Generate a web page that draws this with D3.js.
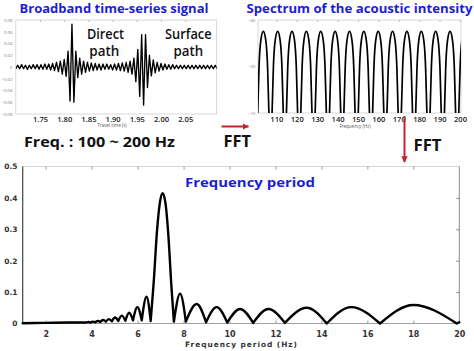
<!DOCTYPE html>
<html>
<head>
<meta charset="utf-8">
<script src="https://d3js.org/d3.v7.min.js"></script>
<style>
  body { margin: 0; background: #fff; }
</style>
</head>
<body>
<script>
// ---- data ----

// broadband time-series signal, one sample every 4 ms from 1.700 s
var sigStart = 1.700, sigStep = 0.004;
var sigValues = [
  -0.003, 0.003, -0.003, 0.004, -0.003, 0.003, -0.004, 0.003, -0.003, 0.004,
  -0.003, 0.004, -0.004, 0.004, -0.004, 0.005, -0.004, 0.005, -0.005, 0.006,
  -0.006, 0.008, -0.008, 0.010, -0.012, 0.013, -0.016,
  0.027, -0.058, 0.073, -0.060, 0.027, -0.018, 0.015, -0.012, 0.010, -0.009, 0.008, -0.007, 0.007, -0.006,
  0.006, -0.005, 0.005, -0.005, 0.005, -0.004, 0.005, -0.004, 0.004, -0.005, 0.005, -0.005, 0.006, -0.006, 0.007, -0.007,
  0.008, -0.009, 0.010, -0.012,
  0.015, -0.025, 0.030, -0.050, 0.055, -0.065, 0.055, -0.035, 0.020, -0.015, 0.012, -0.010, 0.008, -0.007, 0.006,
  -0.005, 0.005, -0.004, 0.004, -0.004, 0.004, -0.003, 0.003, -0.003, 0.003, -0.003, 0.003, -0.003, 0.003,
  -0.003, 0.003, -0.003, 0.003, -0.003, 0.003, -0.003, 0.003, -0.003, 0.003, -0.003, 0.003, -0.003, 0.003, -0.003
];
var sigTicksX = [1.75, 1.80, 1.85, 1.90, 1.95, 2.00, 2.05];
var sigTicksY = [0.08, 0.06, 0.04, 0.02, 0, -0.02, -0.04, -0.06, -0.08];

// spectrum of the acoustic intensity
var specFreq = [100.08,
  100.9, 101.5, 102.4, 103.6, 104.8, 105.7, 106.3, 107.12,
  107.94, 108.54, 109.44, 110.64, 111.84, 112.74, 113.34, 114.16,
  114.98, 115.58, 116.48, 117.68, 118.88, 119.78, 120.38, 121.2,
  122.02, 122.62, 123.52, 124.72, 125.92, 126.82, 127.42, 128.24,
  129.06, 129.66, 130.56, 131.76, 132.96, 133.86, 134.46, 135.28,
  136.1, 136.7, 137.6, 138.8, 140.0, 140.9, 141.5, 142.32,
  143.14, 143.74, 144.64, 145.84, 147.04, 147.94, 148.54, 149.36,
  150.18, 150.78, 151.68, 152.88, 154.08, 154.98, 155.58, 156.4,
  157.22, 157.82, 158.72, 159.92, 161.12, 162.02, 162.62, 163.44,
  164.26, 164.86, 165.76, 166.96, 168.16, 169.06, 169.66, 170.48,
  171.3, 171.9, 172.8, 174.0, 175.2, 176.1, 176.7, 177.52,
  178.34, 178.94, 179.84, 181.04, 182.24, 183.14, 183.74, 184.56,
  185.38, 185.98, 186.88, 188.08, 189.28, 190.18, 190.78, 191.6,
  192.42, 193.02, 193.92, 195.12, 196.32, 197.22, 197.82, 198.64,
  199.46, 200.06, 200.96, 202.16];
var specDb = [-5,
  -16, -29.8, -38.5, -41.3, -38.5, -29.8, -16, -5,
  -16, -29.8, -38.5, -41.3, -38.5, -29.8, -16, -5,
  -16, -29.8, -38.5, -41.3, -38.5, -29.8, -16, -5,
  -16, -29.8, -38.5, -41.3, -38.5, -29.8, -16, -5,
  -16, -29.8, -38.5, -41.3, -38.5, -29.8, -16, -5,
  -16, -29.8, -38.5, -41.3, -38.5, -29.8, -16, -5,
  -16, -29.8, -38.5, -41.3, -38.5, -29.8, -16, -5,
  -16, -29.8, -38.5, -41.3, -38.5, -29.8, -16, -5,
  -16, -29.8, -38.5, -41.3, -38.5, -29.8, -16, -5,
  -16, -29.8, -38.5, -41.3, -38.5, -29.8, -16, -5,
  -16, -29.8, -38.5, -41.3, -38.5, -29.8, -16, -5,
  -16, -29.8, -38.5, -41.3, -38.5, -29.8, -16, -5,
  -16, -29.8, -38.5, -41.3, -38.5, -29.8, -16, -5,
  -16, -29.8, -38.5, -41.3, -38.5, -29.8, -16, -5,
  -16, -29.8, -38.5, -41.3];
var specTicksX = [110, 120, 130, 140, 150, 160, 170, 180, 190, 200];
var specTicksY = [-45, -30, -15];

// frequency period
var periodX = [1.0, 2.0, 3.0, 3.66, 3.76, 3.86, 3.96, 4.06, 4.16, 4.27, 4.38, 4.5, 4.62, 4.75,
  4.88, 5.02, 5.16, 5.31, 5.47, 5.63, 5.8, 5.99, 6.18, 6.39, 6.57, 6.7, 6.84, 6.97, 7.09,
  7.21, 7.34, 7.47, 7.58, 7.85, 8.1, 8.57, 8.98, 9.44, 9.9, 10.46, 11.03, 11.69, 12.41,
  13.36, 14.23, 15.3, 16.55, 18.0, 19.89, 20.0];
var periodY = [0.001, 0.002, 0.003, 0.003, 0.003, 0.005, 0.003, 0.006, 0.004, 0.008, 0.005, 0.011, 0.006, 0.014,
  0.007, 0.019, 0.008, 0.025, 0.009, 0.034, 0.01, 0.052, 0.01, 0.085, 0.008, 0.13, 0.29, 0.385, 0.415,
  0.385, 0.28, 0.12, 0.006, 0.095, 0.006, 0.062, 0.004, 0.052, 0.003, 0.046, 0.002, 0.046, 0.002,
  0.05, 0.0, 0.052, 0.0, 0.059, 0.0, 0.004];
var periodTicksX = [2, 4, 6, 8, 10, 12, 14, 16, 18, 20];
var periodTicksY = [0, 0.1, 0.2, 0.3, 0.4, 0.5];

// ---- page ----
var width = 474, height = 351;
var blue = "#1c1cd8", red = "#c0262c";
var sans = "'Open Sans', 'Noto Sans', sans-serif";
var bold = "'DejaVu Sans', sans-serif";

var svg = d3.select("body")
  .append("svg")
    .attr("width", width)
    .attr("height", height)
    .style("font-family", sans);

var defs = svg.append("defs");
function clip(id, x0, y0, x1, y1) {
  defs.append("clipPath").attr("id", id)
    .append("rect").attr("x", x0).attr("y", y0).attr("width", x1 - x0).attr("height", y1 - y0);
}

function tidy(g, size, color, family, weight) {
  g.attr("font-size", size).attr("font-family", family).attr("font-weight", weight || null);
  g.select(".domain").remove();
  g.selectAll(".tick text").attr("fill", color);
  return g;
}

// ===== panel 1 : time-series =====
var x1 = d3.scaleLinear().domain([1.70, 2.115]).range([15.8, 216.7]);
var y1 = d3.scaleLinear().domain([-0.08, 0.08]).range([114, 20]);

svg.append("rect")
  .attr("x", x1.range()[0]).attr("y", y1.range()[1])
  .attr("width", x1.range()[1] - x1.range()[0]).attr("height", y1.range()[0] - y1.range()[1])
  .attr("fill", "#fff").attr("stroke", "#cfcfcf").attr("stroke-width", 0.8);

svg.append("g").attr("transform", "translate(0,20)")
  .call(d3.axisTop(x1).tickValues(sigTicksX).tickSize(-2).tickFormat(""))
  .call(function(g) { g.select(".domain").remove(); g.selectAll("line").attr("stroke", "#bbb"); });

var ax1 = svg.append("g").attr("transform", "translate(0,114)")
  .call(d3.axisBottom(x1).tickValues(sigTicksX).tickSize(0).tickFormat(d3.format(".2f")));
tidy(ax1, 7.6, "#222", sans, 600);
ax1.selectAll(".tick text").attr("y", 7.5).attr("dy", 0);

var ay1 = svg.append("g").attr("transform", "translate(14,0)")
  .call(d3.axisLeft(y1).tickValues(sigTicksY).tickSize(0).tickPadding(1.5)
    .tickFormat(function(d) { return d === 0 ? "0" : d3.format(".2f")(d); }));
tidy(ay1, 4.3, "#777", sans);

svg.append("text").attr("x", 112).attr("y", 127).attr("text-anchor", "middle")
  .attr("font-size", 4.5).attr("fill", "#555").text("Travel time (s)");

clip("c1", x1.range()[0], y1.range()[1], x1.range()[1], y1.range()[0]);
svg.append("path")
  .datum(sigValues)
  .attr("clip-path", "url(#c1)")
  .attr("fill", "none").attr("stroke", "#000").attr("stroke-width", 1.35)
  .attr("stroke-linejoin", "round")
  .attr("d", d3.line()
    .x(function(d, i) { return x1(sigStart + i * sigStep); })
    .y(function(d) { return y1(d); }));

svg.append("text").attr("x", 19.5).attr("y", 12.5)
  .attr("font-size", 11.5).attr("font-weight", 700).attr("fill", blue)
  .attr("textLength", 189).attr("lengthAdjust", "spacingAndGlyphs")
  .text("Broadband time-series signal");

var pathLabels = [
  {t: "Direct", x: 105.5, y: 39.3, w: 37},
  {t: "path", x: 104.3, y: 55.5, w: 30},
  {t: "Surface", x: 188.3, y: 39.3, w: 46.5},
  {t: "path", x: 188.3, y: 55.5, w: 29.5}
];
svg.selectAll(".plabel").data(pathLabels).enter().append("text")
  .attr("class", "plabel")
  .attr("x", function(d) { return d.x; }).attr("y", function(d) { return d.y; })
  .attr("text-anchor", "middle").attr("font-size", 13.5).attr("font-weight", 600)
  .attr("fill", "#111")
  .attr("textLength", function(d) { return d.w; }).attr("lengthAdjust", "spacingAndGlyphs")
  .text(function(d) { return d.t; });

// ===== panel 2 : spectrum =====
var x2 = d3.scaleLinear().domain([101, 200.5]).range([258, 461]);
var y2 = d3.scaleLinear().domain([-45, -15]).range([20, 113]);

svg.append("rect")
  .attr("x", x2.range()[0]).attr("y", y2.range()[0])
  .attr("width", x2.range()[1] - x2.range()[0]).attr("height", y2.range()[1] - y2.range()[0])
  .attr("fill", "#fff").attr("stroke", "#cfcfcf").attr("stroke-width", 0.8);

svg.append("g").attr("transform", "translate(0,20)")
  .call(d3.axisTop(x2).tickValues(specTicksX).tickSize(-2).tickFormat(""))
  .call(function(g) { g.select(".domain").remove(); g.selectAll("line").attr("stroke", "#bbb"); });

var ax2 = svg.append("g").attr("transform", "translate(0,113)")
  .call(d3.axisBottom(x2).tickValues(specTicksX).tickSize(0));
tidy(ax2, 7.6, "#222", sans, 600);
ax2.selectAll(".tick text").attr("y", 8.5).attr("dy", 0);

var ay2 = svg.append("g").attr("transform", "translate(257,0)")
  .call(d3.axisLeft(y2).tickValues(specTicksY).tickSize(0).tickPadding(1.5));
tidy(ay2, 4.3, "#777", sans);

svg.append("text").attr("x", 355).attr("y", 127.5).attr("text-anchor", "middle")
  .attr("font-size", 4.5).attr("fill", "#555").text("Frequency (Hz)");

clip("c2", x2.range()[0], y2.range()[0], x2.range()[1], y2.range()[1]);
svg.append("path")
  .datum(d3.zip(specFreq, specDb))
  .attr("clip-path", "url(#c2)")
  .attr("fill", "none").attr("stroke", "#000").attr("stroke-width", 1.7)
  .attr("d", d3.line()
    .curve(d3.curveMonotoneX)
    .x(function(d) { return x2(d[0]); })
    .y(function(d) { return y2(d[1]); }));

svg.append("text").attr("x", 246.5).attr("y", 12.5)
  .attr("font-size", 11.5).attr("font-weight", 700).attr("fill", blue)
  .attr("textLength", 226).attr("lengthAdjust", "spacingAndGlyphs")
  .text("Spectrum of the acoustic intensity");

// ===== middle annotations =====
svg.append("text").attr("x", 24).attr("y", 146.5)
  .attr("font-size", 14).attr("font-weight", 700).attr("fill", "#111")
  .attr("textLength", 151).attr("lengthAdjust", "spacingAndGlyphs")
  .text("Freq. : 100 ~ 200 Hz");

svg.append("text").attr("x", 223.5).attr("y", 147)
  .attr("font-size", 16).attr("font-weight", 700).attr("fill", "#111")
  .attr("textLength", 27.5).attr("lengthAdjust", "spacingAndGlyphs").text("FFT");
svg.append("text").attr("x", 413.5).attr("y", 150.5)
  .attr("font-size", 16).attr("font-weight", 700).attr("fill", "#111")
  .attr("textLength", 28).attr("lengthAdjust", "spacingAndGlyphs").text("FFT");

defs.append("marker").attr("id", "head")
  .attr("viewBox", "0 0 10 10").attr("refX", 9).attr("refY", 5)
  .attr("markerWidth", 3.2).attr("markerHeight", 3.2).attr("orient", "auto")
  .append("path").attr("d", "M0,0L10,5L0,10Z").attr("fill", red);
svg.append("line").attr("x1", 221.5).attr("y1", 126.5).attr("x2", 248.5).attr("y2", 126.5)
  .attr("stroke", red).attr("stroke-width", 2).attr("marker-end", "url(#head)");
svg.append("line").attr("x1", 404.5).attr("y1", 116).attr("x2", 404.5).attr("y2", 162)
  .attr("stroke", red).attr("stroke-width", 2).attr("marker-end", "url(#head)");

// ===== panel 3 : frequency period =====
var x3 = d3.scaleLinear().domain([1, 20]).range([22.7, 459.3]);
var y3 = d3.scaleLinear().domain([0, 0.5]).range([323.5, 166.5]);
var L = x3.range()[0], R = x3.range()[1], T = y3.range()[1], B = y3.range()[0];

svg.append("line").attr("x1", L).attr("y1", T).attr("x2", R).attr("y2", T).attr("stroke", "#d4d4d4");
svg.append("line").attr("x1", R).attr("y1", T).attr("x2", R).attr("y2", B).attr("stroke", "#8a8a8a");
svg.append("line").attr("x1", L).attr("y1", B).attr("x2", R).attr("y2", B).attr("stroke", "#a0a0a0");
svg.append("line").attr("x1", L).attr("y1", T).attr("x2", L).attr("y2", B).attr("stroke", "#444").attr("stroke-width", 1.2);

svg.append("g").attr("transform", "translate(0," + T + ")")
  .call(d3.axisTop(x3).tickValues(periodTicksX.slice(0, -1)).tickSize(-3).tickFormat(""))
  .call(function(g) { g.select(".domain").remove(); g.selectAll("line").attr("stroke", "#999"); });
svg.append("g").attr("transform", "translate(0," + B + ")")
  .call(d3.axisBottom(x3).tickValues(periodTicksX.slice(0, -1)).tickSize(-3).tickFormat(""))
  .call(function(g) { g.select(".domain").remove(); g.selectAll("line").attr("stroke", "#999"); });
svg.append("g").attr("transform", "translate(" + R + ",0)")
  .call(d3.axisRight(y3).tickValues(periodTicksY.slice(1, -1)).tickSize(-3).tickFormat(""))
  .call(function(g) { g.select(".domain").remove(); g.selectAll("line").attr("stroke", "#888"); });

var ax3 = svg.append("g").attr("transform", "translate(0," + B + ")")
  .call(d3.axisBottom(x3).tickValues(periodTicksX).tickSize(0));
tidy(ax3, 8, "#333", bold, 700);
ax3.selectAll(".tick text").attr("y", 13.2).attr("dy", 0);

var ay3 = svg.append("g").attr("transform", "translate(17.5,0)")
  .call(d3.axisLeft(y3).tickValues(periodTicksY).tickSize(0).tickPadding(0)
    .tickFormat(function(d) { return d === 0 ? "0" : d3.format(".1f")(d); }));
tidy(ay3, 7.5, "#333", bold, 700);

svg.append("text").attr("x", 241).attr("y", 346.5).attr("text-anchor", "middle")
  .attr("font-family", bold).attr("font-size", 7.4).attr("font-weight", 700).attr("fill", "#333")
  .attr("textLength", 112).attr("lengthAdjust", "spacing")
  .text("Frequency period (Hz)");

svg.append("text").attr("x", 250).attr("y", 186.5).attr("text-anchor", "middle")
  .attr("font-size", 12).attr("font-weight", 700).attr("fill", blue)
  .attr("textLength", 130).attr("lengthAdjust", "spacingAndGlyphs")
  .text("Frequency period");

// split the curve at its dips so each arch keeps a sharp notch
var pts = d3.zip(periodX, periodY);
var cuts = [0];
for (var i = 1; i < pts.length - 1; i++) {
  if (pts[i][1] < pts[i - 1][1] && pts[i][1] < pts[i + 1][1]) cuts.push(i);
}
cuts.push(pts.length - 1);
var arch = d3.line().curve(d3.curveMonotoneX)
  .x(function(d) { return x3(d[0]); })
  .y(function(d) { return y3(d[1]); });
var dStr = "";
for (var k = 0; k < cuts.length - 1; k++) dStr += arch(pts.slice(cuts[k], cuts[k + 1] + 1));

svg.append("path")
  .attr("d", dStr)
  .attr("fill", "none").attr("stroke", "#000").attr("stroke-width", 2.4)
  .attr("stroke-linecap", "round").attr("stroke-linejoin", "round");
</script>
</body>
</html>
